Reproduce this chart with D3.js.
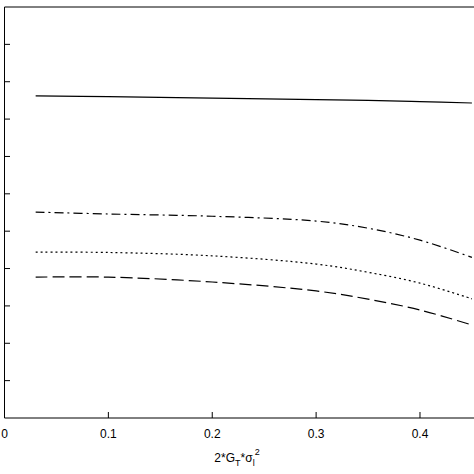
<!DOCTYPE html><html><head><script src="https://d3js.org/d3.v7.min.js"></script>
<style>body{margin:0;background:#fff}</style></head><body><svg id="c" width="474" height="474"></svg>
<script>
const xs=[0.03,0.1,0.2,0.3,0.35,0.4,0.45];
const solid=[8.62,8.6,8.56,8.52,8.5,8.47,8.43];
const dashdot=[5.51,5.46,5.40,5.27,5.08,4.76,4.30];
const dotted=[4.44,4.43,4.34,4.12,3.90,3.61,3.19];
const dashed=[3.77,3.77,3.64,3.40,3.18,2.89,2.49];
const xTicks=[0,0.1,0.2,0.3,0.4];
const yTicks=[1,2,3,4,5,6,7,8,9,10];
const svg=d3.select("#c");
const x=d3.scaleLinear().domain([0,0.452]).range([4.5,474]);
const y=d3.scaleLinear().domain([0,11]).range([418,7]);
svg.append("line").attr("x1",4.5).attr("x2",4.5).attr("y1",7).attr("y2",418).attr("stroke","#000");
svg.append("line").attr("x1",4.5).attr("x2",474).attr("y1",7).attr("y2",7).attr("stroke","#000");
svg.append("line").attr("x1",4.5).attr("x2",474).attr("y1",418).attr("y2",418).attr("stroke","#000");
yTicks.forEach(t=>svg.append("line").attr("x1",4.5).attr("x2",10).attr("y1",y(t)).attr("y2",y(t)).attr("stroke","#000"));
xTicks.forEach(t=>{svg.append("line").attr("x1",x(t)).attr("x2",x(t)).attr("y1",418).attr("y2",412).attr("stroke","#000");
svg.append("text").attr("x",x(t)).attr("y",438).attr("text-anchor","middle").attr("font-family","Arial, Liberation Sans").attr("font-size",12).text(t===0?"0":t)});
const line=d3.line().x((d,i)=>x(xs[i])).y(d=>y(d)).curve(d3.curveCatmullRom);
[[solid,null],[dashdot,"9,4,2,4"],[dotted,"2,3"],[dashed,"12,5"]].forEach(([s,da])=>{
 const p=svg.append("path").attr("d",line(s)).attr("fill","none").attr("stroke","#000").attr("stroke-width",1.2);
 if(da)p.attr("stroke-dasharray",da);});
const t=svg.append("text").attr("x",237).attr("y",462).attr("text-anchor","middle").attr("font-family","Arial, Liberation Sans").attr("font-size",12);
t.append("tspan").text("2*G");t.append("tspan").attr("dy",4).attr("font-size",9).text("T");
t.append("tspan").attr("dy",-4).text("*σ");t.append("tspan").attr("dy",4).attr("font-size",9).text("l");
t.append("tspan").attr("dy",-11).attr("font-size",9).text("2");
</script></body></html>
